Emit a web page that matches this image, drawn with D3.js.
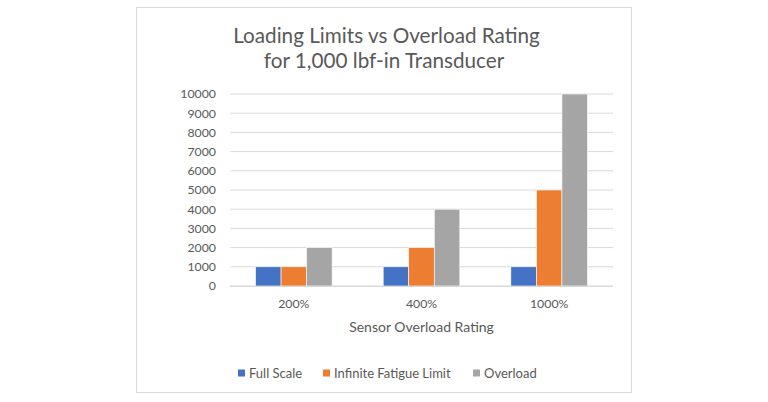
<!DOCTYPE html>
<html>
<head>
<meta charset="utf-8">
<script src="https://cdn.jsdelivr.net/npm/d3@7"></script>
<style>
  body { margin: 0; background: #fff; }
  text { font-family: Lato, "Open Sans", sans-serif; fill: #595959; }
</style>
</head>
<body>
<div id="chart"></div>
<script>
const categories = ["200%", "400%", "1000%"];
const seriesNames = ["Full Scale", "Infinite Fatigue Limit", "Overload"];
const fullScale = [1000, 1000, 1000];
const fatigueLimit = [1000, 2000, 5000];
const overload = [2000, 4000, 10000];
const yTicks = [0, 1000, 2000, 3000, 4000, 5000, 6000, 7000, 8000, 9000, 10000];
const colors = ["#4472C4", "#ED7D31", "#A5A5A5"];

const width = 768, height = 402;
const plot = { left: 230, right: 613, top: 94, bottom: 286 };

const svg = d3.select("#chart").append("svg")
  .attr("width", width)
  .attr("height", height);

// outer chart frame
svg.append("rect")
  .attr("x", 136.5).attr("y", 7.5)
  .attr("width", 495).attr("height", 385)
  .attr("fill", "#fff")
  .attr("stroke", "#D9D9D9");

// title
const title = svg.append("text")
  .attr("text-anchor", "middle")
  .style("font-size", "20.7px");
title.append("tspan").attr("x", 386.5).attr("y", 43).text("Loading Limits vs Overload Rating");
title.append("tspan").attr("x", 384).attr("y", 68).text("for 1,000 lbf-in Transducer");

const x0 = d3.scaleBand()
  .domain(categories)
  .range([plot.left, plot.right])
  .paddingInner(0.4)
  .paddingOuter(0.2);

const x1 = d3.scaleBand()
  .domain(seriesNames)
  .range([0, x0.bandwidth()]);

const y = d3.scaleLinear()
  .domain([0, 10000])
  .range([plot.bottom, plot.top]);

// gridlines
svg.append("g")
  .selectAll("line")
  .data(yTicks)
  .join("line")
  .attr("x1", plot.left).attr("x2", plot.right)
  .attr("y1", d => y(d)).attr("y2", d => y(d))
  .attr("stroke", "#D9D9D9")
  .attr("stroke-width", 1);

// y axis labels
const yAxis = d3.axisLeft(y).tickValues(yTicks).tickSize(0).tickPadding(14).tickFormat(d3.format("d"));
svg.append("g")
  .attr("transform", `translate(${plot.left},0)`)
  .call(yAxis)
  .call(g => g.select(".domain").remove())
  .call(g => g.selectAll("text").style("font-size", "12.3px").attr("fill", "#595959"));

const table = categories.map((c, i) => ({
  cat: c,
  values: [fullScale[i], fatigueLimit[i], overload[i]]
}));

svg.append("g")
  .selectAll("g")
  .data(table)
  .join("g")
  .attr("transform", d => `translate(${x0(d.cat)},0)`)
  .selectAll("rect")
  .data(d => d.values.map((v, j) => ({ name: seriesNames[j], value: v, color: colors[j] })))
  .join("rect")
  .attr("x", d => x1(d.name))
  .attr("y", d => y(d.value))
  .attr("width", x1.bandwidth())
  .attr("height", d => y(0) - y(d.value))
  .attr("fill", d => d.color)
  .attr("stroke", "#fff")
  .attr("stroke-width", 0.6);

// x axis
const xAxis = d3.axisBottom(x0).tickSize(0).tickPadding(13);
svg.append("g")
  .attr("transform", `translate(0,${plot.bottom})`)
  .call(xAxis)
  .call(g => g.select(".domain").attr("stroke", "#D9D9D9").attr("d", `M${plot.left},0.5H${plot.right}`))
  .call(g => g.selectAll("text").style("font-size", "12.3px").attr("fill", "#595959"));

svg.append("text")
  .attr("x", (plot.left + plot.right) / 2)
  .attr("y", 332)
  .attr("text-anchor", "middle")
  .style("font-size", "14px")
  .text("Sensor Overload Rating");

// legend
const legendX = [238, 323, 473];
const legend = svg.append("g")
  .selectAll("g")
  .data(seriesNames)
  .join("g")
  .attr("transform", (d, i) => `translate(${legendX[i]},373)`);
legend.append("rect")
  .attr("x", 0).attr("y", -3.5)
  .attr("width", 7).attr("height", 7)
  .attr("fill", (d, i) => colors[i]);
legend.append("text")
  .attr("x", 11)
  .attr("y", 4.5)
  .style("font-size", "13px")
  .text(d => d);
</script>
</body>
</html>
